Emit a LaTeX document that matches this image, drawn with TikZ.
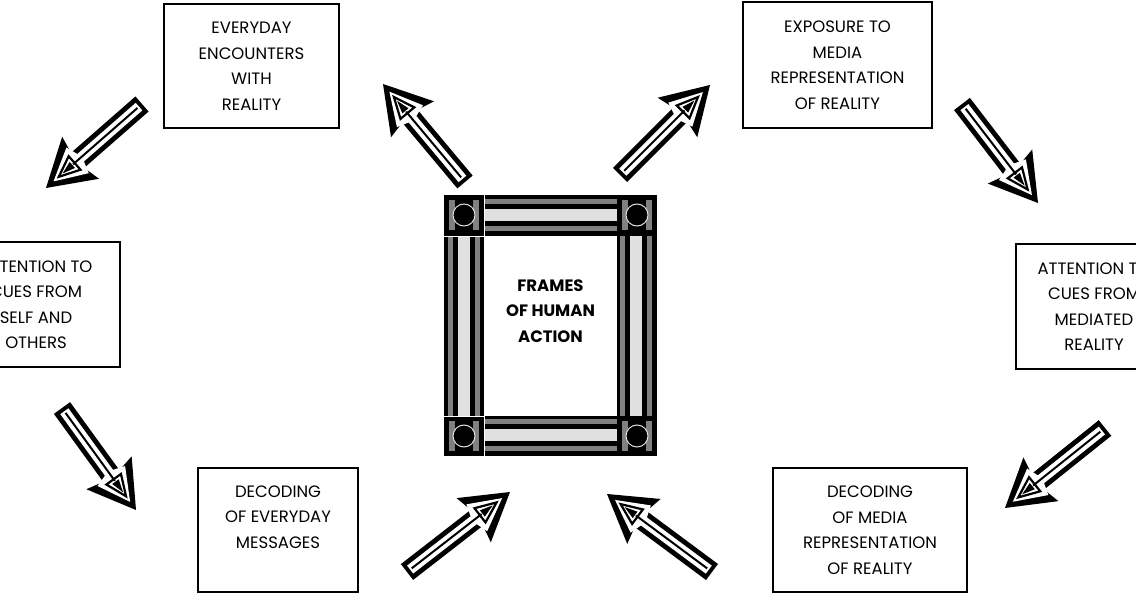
\documentclass[tikz,border=0pt]{standalone}
\usepackage{fontspec}
\setmainfont{Poppins}
\usetikzlibrary{calc}
\definecolor{gr}{gray}{0.5}
\definecolor{lg}{gray}{0.88}
\tikzset{lbox/.style={draw=black,line width=2pt,fill=white,inner sep=0pt},
lab/.style={font=\fontsize{16.5}{25.5}\selectfont,align=center}}
\newcommand\apT[2]{($(T)!#1!(H)!#2!90:(H)$)}
\newcommand\apH[2]{($(H)!#1!(T)!#2!-90:(T)$)}
\newcommand\fatarr[2]{%
\coordinate (T) at #1; \coordinate (H) at #2;
\fill[black] \apT{0pt}{10pt} -- \apH{42pt}{10pt} -- \apH{46pt}{28pt} -- (H) -- \apH{46pt}{-28pt} -- \apH{42pt}{-10pt} -- \apT{0pt}{-10pt} -- cycle;
\fill[white] \apT{4pt}{5pt} -- \apH{46pt}{5pt} -- \apH{42pt}{17pt} -- \apH{10pt}{0pt} -- \apH{42pt}{-17pt} -- \apH{46pt}{-5pt} -- \apT{4pt}{-5pt} -- cycle;
\draw[black,line width=2pt] \apT{6pt}{0pt} -- \apH{36pt}{0pt};
\draw[black,line width=2.2pt] \apH{38pt}{9pt} -- \apH{17pt}{0pt} -- \apH{38pt}{-9pt} -- cycle;
\fill[black] \apH{35pt}{4pt} -- \apH{22pt}{0pt} -- \apH{35pt}{-4pt} -- cycle;
}
\begin{document}
\begin{tikzpicture}[x=1pt,y=-1pt]
\useasboundingbox (0,0) rectangle (1136,596);
\clip (0,0) rectangle (1136,596);
\fill[white] (0,0) rectangle (1136,596);
% boxes
\node[lbox,minimum width=175pt,minimum height=124pt] (b1) at (251.5,66) {};
\node[lab] at (b1) {EVERYDAY\\ENCOUNTERS\\WITH\\REALITY};
\node[lbox,minimum width=189pt,minimum height=126pt] (b2) at (837.5,65) {};
\node[lab] at (b2) {EXPOSURE TO\\MEDIA\\REPRESENTATION\\OF REALITY};
\node[lbox,minimum width=200pt,minimum height=125pt] (b3) at (20,304.5) {};
\node[lab] at (36,304.5) {ATTENTION TO\\CUES FROM\\SELF AND\\OTHERS};
\node[lbox,minimum width=180pt,minimum height=125pt] (b4) at (1106,306.5) {};
\node[lab] at (1094,306.5) {ATTENTION TO\\CUES FROM\\MEDIATED\\REALITY};
\node[lbox,minimum width=160pt,minimum height=124pt] (b5) at (278,530) {};
\node[lab] at (278,517) {DECODING\\OF EVERYDAY\\MESSAGES};
\node[lbox,minimum width=194pt,minimum height=124pt] (b6) at (870,530) {};
\node[lab] at (b6) {DECODING\\OF MEDIA\\REPRESENTATION\\OF REALITY};
% central frame
\fill[black] (444,195) rectangle (657,456);
\fill[white] (484,236) rectangle (617,416);
\foreach \a/\b/\c in {4/9/gr,14/26/lg,31/36/gr}{
 \fill[\c] (484,195+\a) rectangle (617,195+\b);
 \fill[\c] (484,415+\a) rectangle (617,415+\b);
 \fill[\c] (444+\a,236) rectangle (444+\b,416);
 \fill[\c] (616+\a,236) rectangle (616+\b,416);
}
\foreach \x/\y in {444/195,617/195,444/416,617/416}{
 \fill[gr] (\x+5,\y+5) rectangle (\x+35,\y+35);
 \fill[black] (\x+11,\y+5) rectangle (\x+29,\y+35);
 \filldraw[black,draw=lg,line width=1pt] (\x+20,\y+20) circle (11);
}
\draw[white,line width=0.8pt] (484,195) -- (484,236) (444,236) -- (484,236) (484,416) -- (484,456) (444,416) -- (484,416);
\node[font=\bfseries\fontsize{16.5}{25.5}\selectfont,align=center] (fr) at (550.5,311) {FRAMES\\OF HUMAN\\ACTION};
% arrows
\fatarr{(142,104)}{(46,188)}
\fatarr{(465,182)}{(383,84)}
\fatarr{(620,175)}{(710,85)}
\fatarr{(962,104)}{(1038,203)}
\fatarr{(1105,428)}{(1005,508)}
\fatarr{(712,572)}{(607,494)}
\fatarr{(407,572)}{(510,492)}
\fatarr{(62,408)}{(136,510)}
\end{tikzpicture}
\end{document}
